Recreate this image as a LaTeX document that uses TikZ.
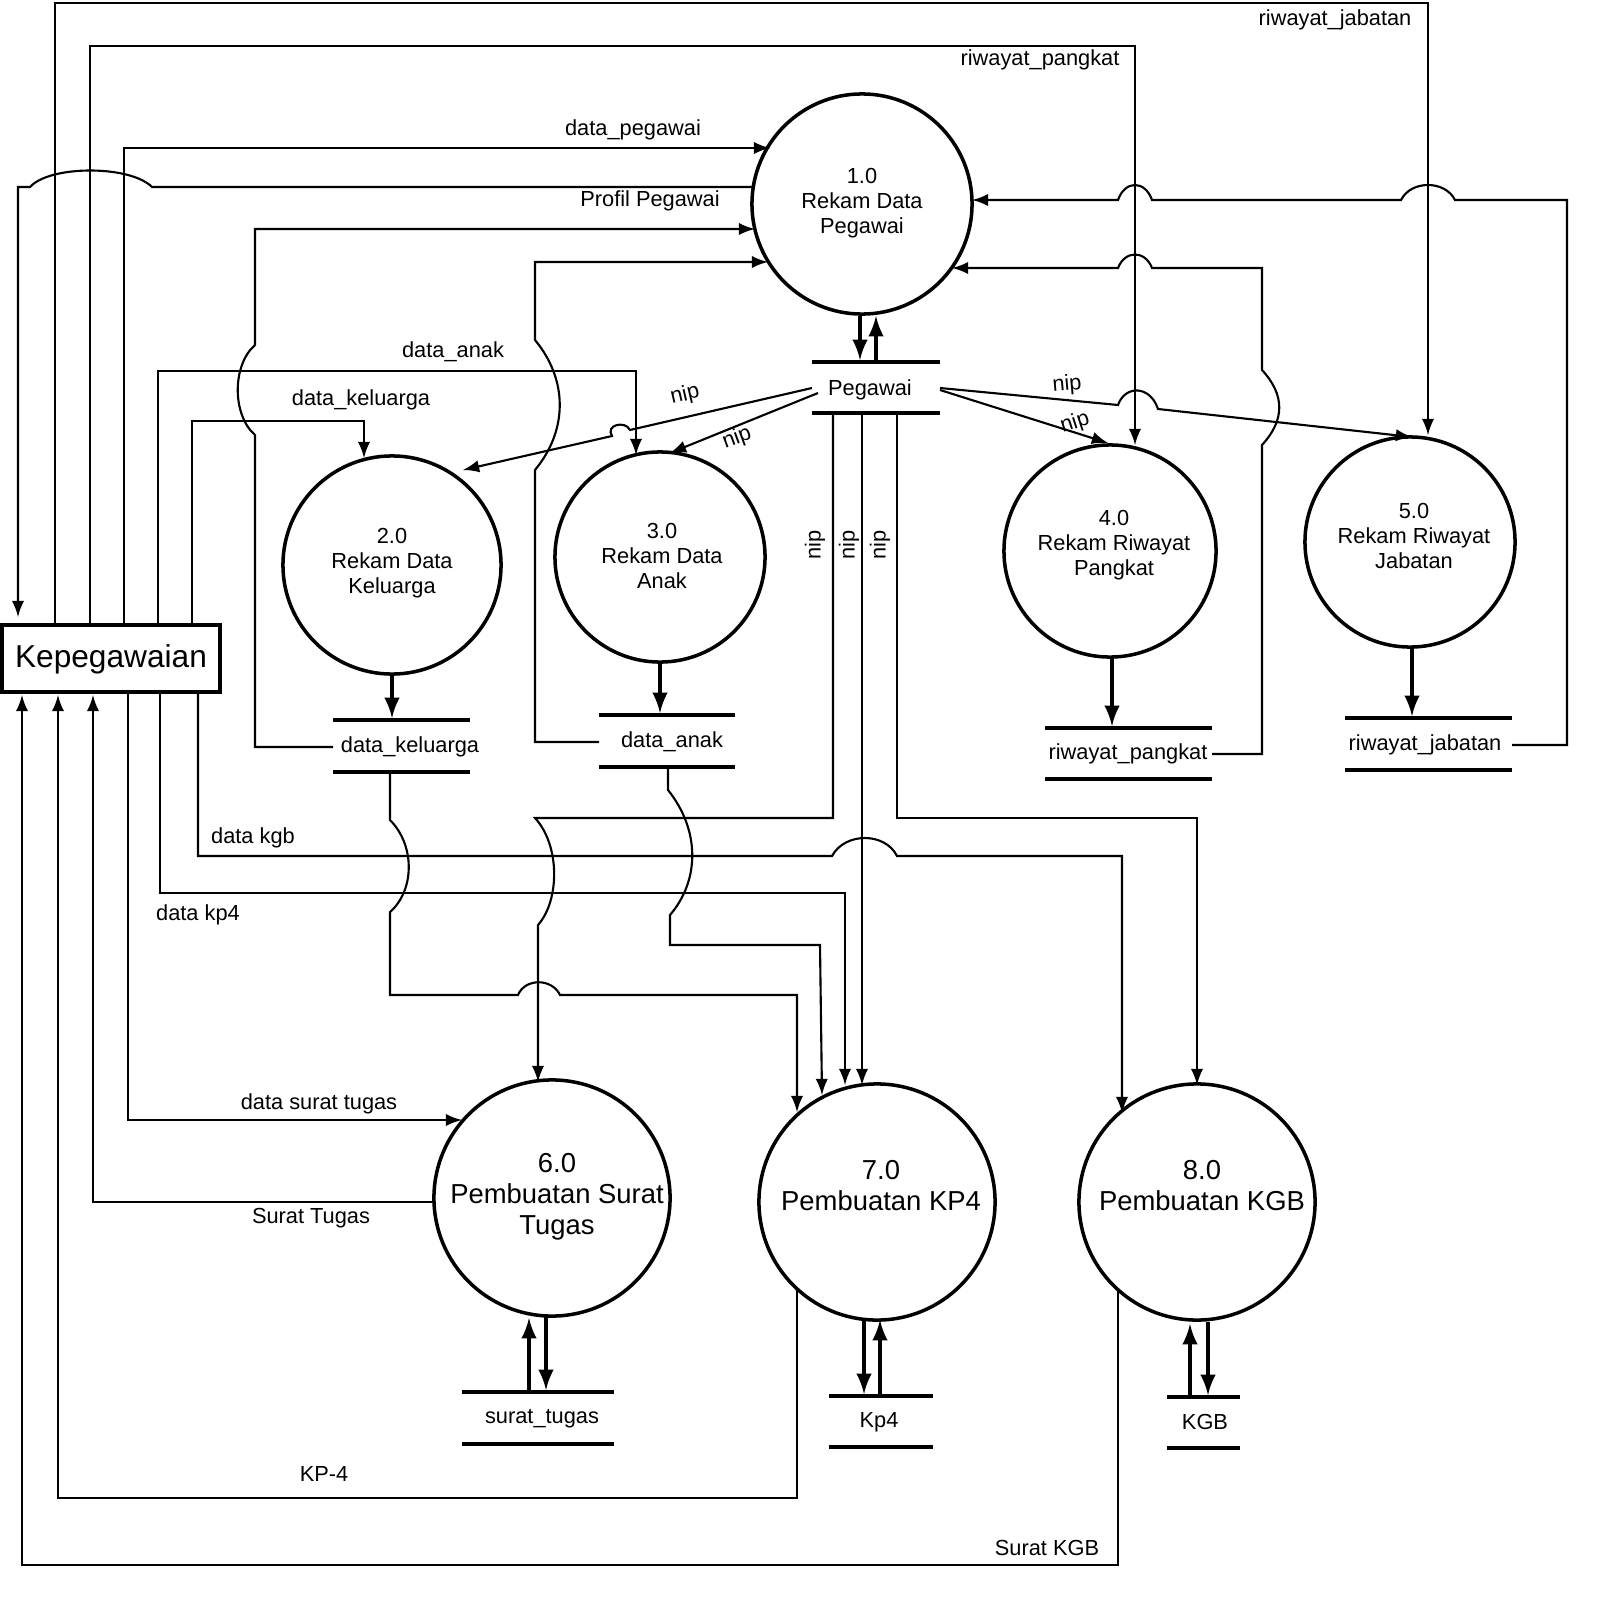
\documentclass[tikz,border=0pt]{standalone}
\usepackage{fontspec}
\setmainfont{Liberation Sans}
\begin{document}
\begin{tikzpicture}[x=0.01cm,y=-0.01cm,
  sm/.style={font=\fontsize{6.2}{7.2}\selectfont},
  big/.style={font=\fontsize{7.8}{8.8}\selectfont},
  ln/.style={line width=0.6pt},
  ar/.style={ln,-latex},
  sar/.style={line width=1pt,-latex},
  st/.style={line width=1pt}]
\useasboundingbox (0,0) rectangle (1600,1600);
\fill[white] (0,0) rectangle (1600,1600);
% box
\draw[line width=1pt] (2,625) rectangle (220,692);
\node[font=\fontsize{9}{10}\selectfont] (K) at (111,659) {Kepegawaian};
% processes
\def\proc#1#2#3#4{\coordinate (#1) at (#2,#3); \draw[line width=1pt] (#1) circle[radius=#4cm];}
\proc{P1}{862}{204}{1.10}
\node[sm,align=center] at (862,203) {1.0\\Rekam Data\\Pegawai};
\proc{P2}{392}{565}{1.09}
\node[sm,align=center] at (392,563) {2.0\\Rekam Data\\Keluarga};
\proc{P3}{660}{557}{1.05}
\node[sm,align=center] at (662,556) {3.0\\Rekam Data\\Anak};
\proc{P4}{1110}{551}{1.06}
\node[sm,align=center] at (1114,545) {4.0\\Rekam Riwayat\\Pangkat};
\proc{P5}{1410}{542}{1.05}
\node[sm,align=center] at (1414,536) {5.0\\Rekam Riwayat\\Jabatan};
\proc{P6}{552}{1198}{1.18}
\node[big,align=center] at (557,1197) {6.0\\Pembuatan Surat\\Tugas};
\proc{P7}{877}{1202}{1.18}
\node[big,align=center] at (881,1186) {7.0\\Pembuatan KP4};
\proc{P8}{1197}{1202}{1.18}
\node[big,align=center] at (1202,1186) {8.0\\Pembuatan KGB};
% stores
\def\store#1#2#3#4#5{\draw[st] (#2,#4)--(#3,#4) (#2,#5)--(#3,#5);}
\store{SP}{812}{940}{362}{413}\node[sm] (SPt) at (870,390) {Pegawai};
\store{SK}{333}{470}{720}{772}\node[sm] (SKt) at (410,747) {data\_keluarga};
\store{SA}{599}{735}{715}{767}\node[sm] (SAt) at (672,742) {data\_anak};
\store{SRP}{1045}{1212}{728}{779}\node[sm] (SRPt) at (1128,754) {riwayat\_pangkat};
\store{SRJ}{1345}{1512}{718}{770}\node[sm] (SRJt) at (1425,745) {riwayat\_jabatan};
\store{SST}{462}{614}{1392}{1444}\node[sm] (SSTt) at (542,1419) {surat\_tugas};
\store{SKP}{829}{933}{1396}{1447}\node[sm] (SKPt) at (879,1422) {Kp4};
\store{SKG}{1167}{1240}{1397}{1448}\node[sm] (SKGt) at (1205,1422) {KGB};
% store arrows
\draw[sar] (860,316)--(860,360); \draw[sar] (876,362)--(876,316);
\draw[sar] (392,674)--(392,718);
\draw[sar] (660,662)--(660,713);
\draw[sar] (1112,657)--(1112,726);
\draw[sar] (1412,647)--(1412,716);
\draw[sar] (529,1392)--(529,1318); \draw[sar] (546,1316)--(546,1390);
\draw[sar] (864,1320)--(864,1394); \draw[sar] (880,1394)--(880,1320);
\draw[sar] (1190,1397)--(1190,1324); \draw[sar] (1208,1322)--(1208,1395);
% Kepegawaian flows
\draw[ar] (124,625)--(124,148)--(770,148);
\node[sm] at (633,130) {data\_pegawai};
\draw[ar] (752,187)--(152,187) .. controls (130,165) and (50,165) .. (30,187) -- (18,187)--(18,617);
\node[sm] at (650,201) {Profil Pegawai};
\draw[ar] (55,625)--(55,3)--(1428,3)--(1428,435);
\node[sm] at (1335,20) {riwayat\_jabatan};
\draw[ar] (90,625)--(90,46)--(1135,46)--(1135,445);
\node[sm] at (1040,60) {riwayat\_pangkat};
\draw[ar] (158,625)--(158,371)--(636,371)--(636,455);
\node[sm] at (453,352) {data\_anak};
\draw[ar] (192,625)--(192,421)--(364,421)--(364,458);
\node[sm] at (361,400) {data\_keluarga};
% stores back to 1.0
\draw[ar] (333,747)--(255,747)--(255,435) .. controls (232,415) and (232,365) .. (255,345) --(255,229)--(755,229);
\draw[ar] (599,742)--(535,742)--(535,470) .. controls (568,430) and (568,380) .. (535,340) --(535,262)--(768,262);
\draw[ar] (1212,754)--(1262,754)--(1262,445) .. controls (1285,420) and (1285,395) .. (1262,370) --(1262,268)--(1152,268) .. controls (1145,250) and (1125,250) .. (1118,268) --(952,268);
\draw[ar] (1512,745)--(1567,745)--(1567,200)--(1455,200) .. controls (1445,180) and (1411,180) .. (1401,200) --(1152,200) .. controls (1145,180) and (1125,180) .. (1118,200) --(972,200);
% nip flows
\draw[ar] (812,388)--(630,430) .. controls (625,420) and (605,425) .. (612,436) --(463,470);
\node[sm,rotate=13] at (685,395) {nip};
\draw[ar] (818,393)--(670,453);
\node[sm,rotate=20] at (737,438) {nip};
\draw[ar] (940,390)--(1108,443);
\node[sm,rotate=18] at (1075,423) {nip};
\draw[ar] (940,388)--(1118,405) .. controls (1125,385) and (1150,385) .. (1158,409) --(1412,437);
\node[sm,rotate=5] at (1067,385) {nip};
\draw[ar] (833,413)--(833,818)--(535,818) .. controls (560,845) and (560,900) .. (538,925) --(538,1082);
\node[sm,rotate=90] at (815,545) {nip};
\draw[ar] (862,413)--(862,1085);
\node[sm,rotate=90] at (849,545) {nip};
\draw[ar] (897,413)--(897,818)--(1197,818)--(1197,1085);
\node[sm,rotate=90] at (880,545) {nip};
% data kgb / kp4
\draw[ar] (198,692)--(198,856)--(832,856) .. controls (845,832) and (885,832) .. (897,856) --(1122,856)--(1122,1113);
\node[sm] at (253,838) {data kgb};
\draw[ar] (160,692)--(160,893)--(845,893)--(845,1085);
\node[sm] at (198,915) {data kp4};
\draw[ar] (390,772)--(390,820) .. controls (415,845) and (415,890) .. (390,912) --(390,995)--(518,995) .. controls (525,978) and (552,978) .. (560,995) --(797,995)--(797,1112);
\draw[ar] (668,767)--(668,790) .. controls (700,830) and (700,880) .. (670,915) --(670,945)--(820,945)--(822,1095);
% outputs
\draw[ar] (128,692)--(128,1120)--(462,1120);
\node[sm] at (319,1104) {data surat tugas};
\draw[ar] (434,1202)--(93,1202)--(93,695);
\node[sm] at (311,1218) {Surat Tugas};
\draw[ar] (797,1290)--(797,1498)--(58,1498)--(58,695);
\node[sm] at (324,1474) {KP-4};
\draw[ar] (1118,1290)--(1118,1565)--(22,1565)--(22,695);
\node[sm] at (1047,1548) {Surat KGB};
\end{tikzpicture}
\end{document}
